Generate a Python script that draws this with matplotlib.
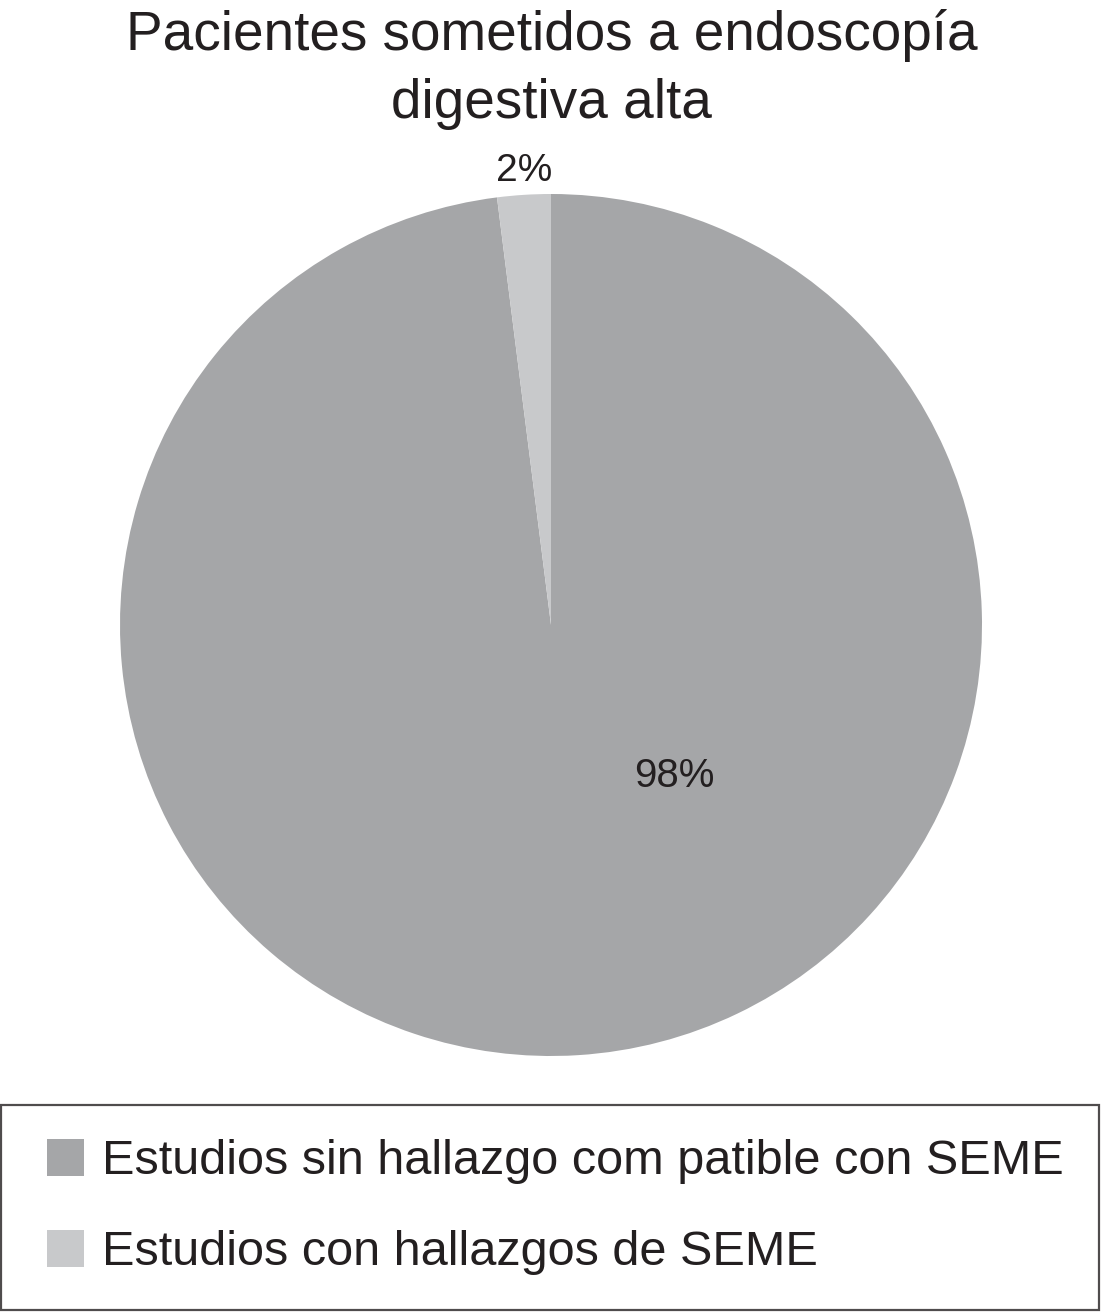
import matplotlib
matplotlib.use("Agg")
import matplotlib.pyplot as plt
from matplotlib.patches import Rectangle
from matplotlib.legend_handler import HandlerPatch

# Data
labels = ["Estudios sin hallazgo com patible con SEME", "Estudios con hallazgos de SEME"]
values = [98, 2]
pct_labels = ["98%", "2%"]
colors = ["#a5a6a8", "#c8c9cb"]
title = "Pacientes sometidos a endoscopía\ndigestiva alta"

W, H = 1103, 1312
fig = plt.figure(figsize=(W / 100, H / 100), dpi=100)
plt.rcParams["font.family"] = ["Liberation Sans", "DejaVu Sans"]

# pie axes: center (551, 625), radius 431 px
r = 431
cx, cy = 551, 625
ax = fig.add_axes([(cx - r) / W, (H - cy - r) / H, 2 * r / W, 2 * r / H])
wedges, _ = ax.pie(values, colors=colors, startangle=90, counterclock=False,
                   wedgeprops=dict(linewidth=0))
ax.set_xlim(-1, 1)
ax.set_ylim(-1, 1)

ax.text(0.285, -0.350, pct_labels[0], ha="center", va="center",
        fontsize=29, color="#231f20")
ax.text(-0.063, 1.053, pct_labels[1], ha="center", va="center",
        fontsize=28, color="#231f20")

fig.text(0.5, 1 - 70 / H, title, ha="center", va="center", fontsize=39.5,
         color="#231f20", linespacing=1.4)


def square_right(legend, orig_handle, xdescent, ydescent, width, height, fontsize):
    s = 0.76 * fontsize
    return Rectangle((-xdescent + width - s, -ydescent + (height - s) / 2), s, s)


leg = fig.legend(wedges, labels, loc="lower left",
                 bbox_to_anchor=(1 / W, 2 / H, 1098 / W, 206 / H), mode="expand",
                 prop=dict(size=35), frameon=True, fancybox=False,
                 edgecolor="#231f20", handlelength=1.0, handleheight=0.76,
                 handletextpad=0.37, borderpad=0.71, labelspacing=0.95,
                 borderaxespad=0, labelcolor="#231f20",
                 handler_map={wedges[0].__class__: HandlerPatch(patch_func=square_right)})
leg.get_frame().set_linewidth(1.6)

fig.savefig("out.png", dpi=100)
